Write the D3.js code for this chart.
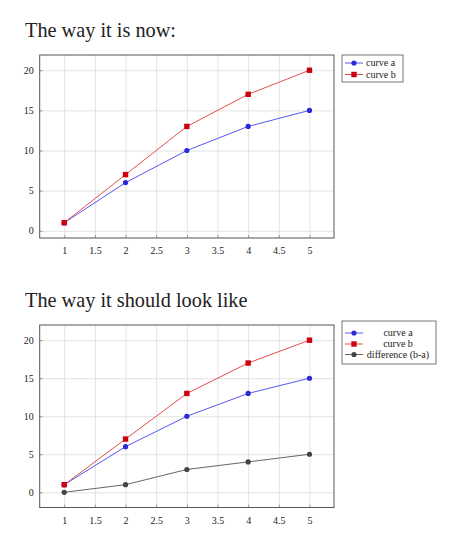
<!DOCTYPE html>
<html>
<head>
<meta charset="utf-8">
<script src="https://cdn.jsdelivr.net/npm/d3@7"></script>
<style>
  body { margin: 0; background: #fff; }
  svg text { font-family: "Liberation Serif", "DejaVu Serif", serif !important; fill: #222; }
  .grid line { stroke: #dcdcdc; stroke-width: 0.8; }
  .grid .domain { display: none; }
</style>
</head>
<body>
<div id="root"></div>
<script>
const xValues = [1, 2, 3, 4, 5];
const curveA = [1, 6, 10, 13, 15];
const curveB = [1, 7, 13, 17, 20];
const difference = [0, 1, 3, 4, 5];
const xTicks = [1, 1.5, 2, 2.5, 3, 3.5, 4, 4.5, 5];
const yTicks = [0, 5, 10, 15, 20];
const titles = ['The way it is now:', 'The way it should look like'];
const seriesNames = ['curve a', 'curve b', 'difference (b-a)'];

const width = 456;
const height = 552;
const serif = '"Liberation Serif", serif';

const svg = d3.select('#root').append('svg')
  .attr('width', width)
  .attr('height', height);

const styles = {
  a: { line: '#4444ee', mark: '#2a2ad8', shape: 'circle' },
  b: { line: '#e03a3a', mark: '#cc0010', shape: 'square' },
  d: { line: '#555', mark: '#444', shape: 'circle' },
};

function drawChart(cfg) {
  svg.append('text')
    .attr('x', 25)
    .attr('y', cfg.titleY)
    .attr('font-size', 20.3)
    .style('font-family', serif)
    .text(cfg.title);

  const xScale = d3.scaleLinear().domain([0.6, 5.4]).range([39.7, 334]);
  const yScale = d3.scaleLinear().domain(cfg.yDomain).range([cfg.bottom, cfg.top]);
  const plotH = cfg.bottom - cfg.top;
  const plotW = 334 - 39.7;

  const g = svg.append('g');

  g.append('g')
    .attr('class', 'grid')
    .attr('transform', `translate(0, ${cfg.bottom})`)
    .call(d3.axisBottom(xScale).tickValues(xTicks).tickSize(-plotH).tickFormat(''));

  g.append('g')
    .attr('class', 'grid')
    .attr('transform', 'translate(39.7, 0)')
    .call(d3.axisLeft(yScale).tickValues(yTicks).tickSize(-plotW).tickFormat(''));

  const xAxis = g.append('g')
    .attr('transform', `translate(0, ${cfg.bottom})`)
    .call(d3.axisBottom(xScale).tickValues(xTicks).tickSize(-3).tickPadding(9).tickFormat(d3.format('')))
    .attr('font-family', null);
  xAxis.select('.domain').remove();
  xAxis.selectAll('line').attr('stroke', '#666').attr('stroke-width', 0.6);
  xAxis.selectAll('text').attr('font-size', 10).style('font-family', serif).attr('fill', '#222');

  const yAxis = g.append('g')
    .attr('transform', 'translate(39.7, 0)')
    .call(d3.axisLeft(yScale).tickValues(yTicks).tickSize(-3).tickPadding(6))
    .attr('font-family', null);
  yAxis.select('.domain').remove();
  yAxis.selectAll('line').attr('stroke', '#666').attr('stroke-width', 0.6);
  yAxis.selectAll('text').attr('font-size', 10).style('font-family', serif).attr('fill', '#222');

  g.append('rect')
    .attr('x', 39.7)
    .attr('y', cfg.top)
    .attr('width', plotW)
    .attr('height', plotH)
    .attr('fill', 'none')
    .attr('stroke', '#555')
    .attr('stroke-width', 1);

  const line = d3.line()
    .x((d, i) => xScale(xValues[i]))
    .y(d => yScale(d));

  cfg.series.forEach(s => {
    const st = styles[s.key];
    g.append('path')
      .datum(s.values)
      .attr('d', line)
      .attr('fill', 'none')
      .attr('stroke', st.line)
      .attr('stroke-width', 0.9);
    drawMarks(g, s.values.map((v, i) => [xScale(xValues[i]), yScale(v)]), st);
  });

  // legend
  const lg = svg.append('g');
  lg.append('rect')
    .attr('x', cfg.legend.x)
    .attr('y', cfg.legend.y)
    .attr('width', cfg.legend.w)
    .attr('height', cfg.legend.h)
    .attr('fill', '#fff')
    .attr('stroke', '#555')
    .attr('stroke-width', 0.8);

  cfg.series.forEach((s, i) => {
    const st = styles[s.key];
    const y = cfg.legend.rows[i];
    const x0 = cfg.legend.x + 3;
    const x1 = cfg.legend.x + 21;
    lg.append('line')
      .attr('x1', x0).attr('x2', x1)
      .attr('y1', y).attr('y2', y)
      .attr('stroke', st.line)
      .attr('stroke-width', 0.9);
    drawMarks(lg, [[(x0 + x1) / 2, y]], st);
    lg.append('text')
      .attr('x', cfg.legend.centered ? cfg.legend.textX : x1 + 3)
      .attr('y', y + 3)
      .attr('text-anchor', cfg.legend.centered ? 'middle' : 'start')
      .attr('font-size', 10)
      .style('font-family', serif)
      .text(s.name);
  });
}

function drawMarks(g, pts, st) {
  if (st.shape === 'square') {
    g.selectAll(null)
      .data(pts)
      .enter()
      .append('rect')
      .attr('x', d => d[0] - 2.7)
      .attr('y', d => d[1] - 2.7)
      .attr('width', 5.4)
      .attr('height', 5.4)
      .attr('fill', st.mark);
  } else {
    g.selectAll(null)
      .data(pts)
      .enter()
      .append('circle')
      .attr('cx', d => d[0])
      .attr('cy', d => d[1])
      .attr('r', 2.6)
      .attr('fill', st.mark);
  }
}

drawChart({
  title: titles[0],
  titleY: 37,
  top: 55,
  bottom: 238,
  yDomain: [-0.9, 21.9],
  series: [
    { key: 'a', name: seriesNames[0], values: curveA },
    { key: 'b', name: seriesNames[1], values: curveB },
  ],
  legend: { x: 342, y: 55, w: 61, h: 27, rows: [63, 74.5], centered: false },
});

drawChart({
  title: titles[1],
  titleY: 307,
  top: 325,
  bottom: 507.5,
  yDomain: [-2, 22],
  series: [
    { key: 'a', name: seriesNames[0], values: curveA },
    { key: 'b', name: seriesNames[1], values: curveB },
    { key: 'd', name: seriesNames[2], values: difference },
  ],
  legend: { x: 342, y: 321, w: 94, h: 43, rows: [333, 344, 354.5], centered: true, textX: 398 },
});
</script>
</body>
</html>
